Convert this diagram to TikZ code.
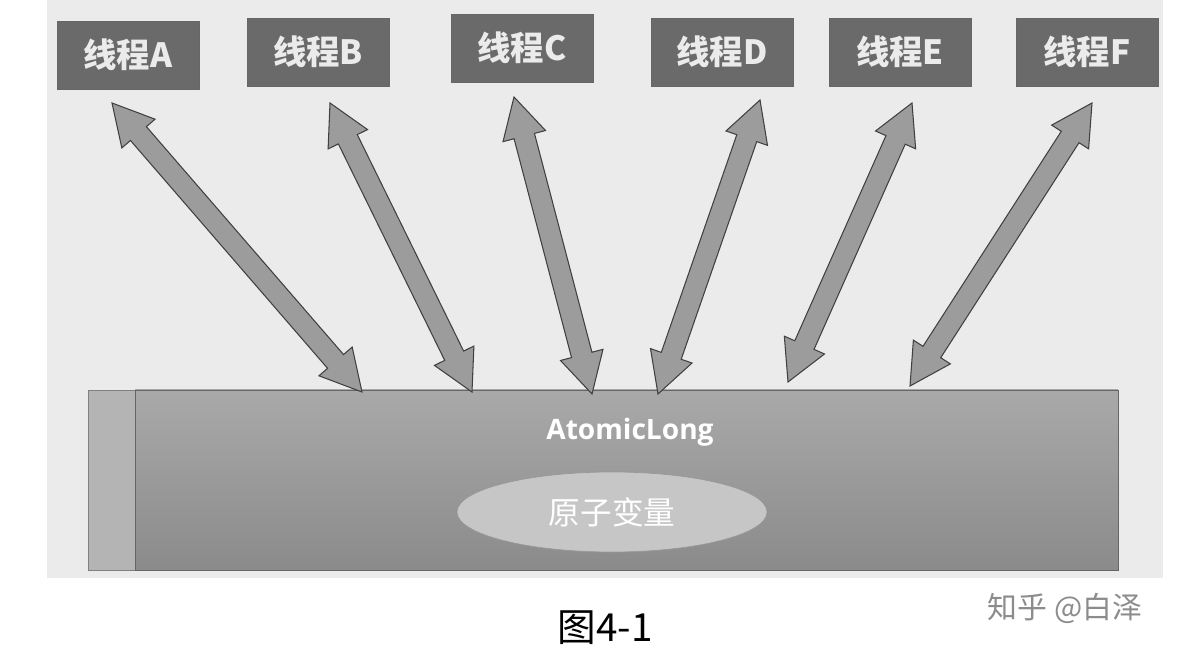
\documentclass[tikz,border=0pt]{standalone}
\usepackage{fontspec}
\newfontfamily\cjk{Noto Sans CJK SC}
\setsansfont{Open Sans}
\usetikzlibrary{calc,shapes.geometric}
\definecolor{panel}{HTML}{EBEBEB}
\definecolor{boxc}{HTML}{6A6A6A}
\definecolor{arrc}{HTML}{9C9C9C}
\definecolor{barc}{HTML}{9A9A9A}
\definecolor{stripc}{HTML}{B4B4B4}
\definecolor{ellc}{HTML}{C6C6C6}
\tikzset{
 thread/.style={fill=boxc,draw=black!60,text=white!92!black,font=\cjk\bfseries\fontsize{19}{22}\selectfont,minimum width=142\px,minimum height=68\px,inner sep=0pt},
 arrowfill/.style={fill=arrc,draw=black!75,line width=0.6pt,line join=miter}
}
\newlength\px \setlength\px{0.02cm}
\newcommand\dbl[2]{%
 \coordinate (h1) at ($(#1)!23pt!(#2)$);
 \coordinate (h2) at ($(#2)!23pt!(#1)$);
 \filldraw[arrowfill] (#1) -- ($(h1)!12.5pt!90:(#1)$) -- ($(h1)!6pt!90:(#1)$) -- ($(h2)!6pt!-90:(#2)$) -- ($(h2)!12.5pt!-90:(#2)$) -- (#2) -- ($(h2)!12.5pt!90:(#2)$) -- ($(h2)!6pt!90:(#2)$) -- ($(h1)!6pt!-90:(#1)$) -- ($(h1)!12.5pt!-90:(#1)$) -- cycle;}
\begin{document}
\begin{tikzpicture}[x=0.02cm,y=-0.02cm]
\useasboundingbox (0,0) rectangle (1197,658);
\fill[white] (0,0) rectangle (1197,658);
\fill[panel] (47,0) rectangle (1163,578);
% bar
\fill[stripc,draw=black!50] (88,390) rectangle (1118,570);
\shade[top color=barc!85!white,bottom color=barc!90!black,draw=black!60] (135,390) rectangle (1118,570);
\node[font=\sffamily\bfseries\fontsize{16}{18}\selectfont,text=white] (al) at (630,432) {AtomicLong};
\node[ellipse,fill=ellc,draw=black!40,minimum width=310\px,minimum height=80\px,text=white,font=\cjk\fontsize{18}{20}\selectfont] (el) at (612,512) {原子变量};
% threads
\node[thread] (tA) at (128,55) {线程A};
\node[thread] (tB) at (318,52) {线程B};
\node[thread] (tC) at (522,48) {线程C};
\node[thread] (tD) at (722,52) {线程D};
\node[thread] (tE) at (900,52) {线程E};
\node[thread] (tF) at (1087,52) {线程F};
% arrow ends
\coordinate (a1) at (112,103); \coordinate (a2) at (362,392);
\coordinate (b1) at (330,103); \coordinate (b2) at (472,392);
\coordinate (c1) at (514,97);  \coordinate (c2) at (592,394);
\coordinate (d1) at (760,100); \coordinate (d2) at (658,394);
\coordinate (e1) at (912,103); \coordinate (e2) at (788,382);
\coordinate (f1) at (1092,103); \coordinate (f2) at (910,386);
\dbl{a1}{a2}\dbl{b1}{b2}\dbl{c1}{c2}\dbl{d1}{d2}\dbl{e1}{e2}\dbl{f1}{f2}
\node[font=\cjk\fontsize{22}{24}\selectfont] (cap) at (605,628) {图4-1};
\node[font=\cjk\fontsize{17}{20}\selectfont,text=black!45] (wm) at (1065,608) {知乎 @白泽};
\end{tikzpicture}
\end{document}
